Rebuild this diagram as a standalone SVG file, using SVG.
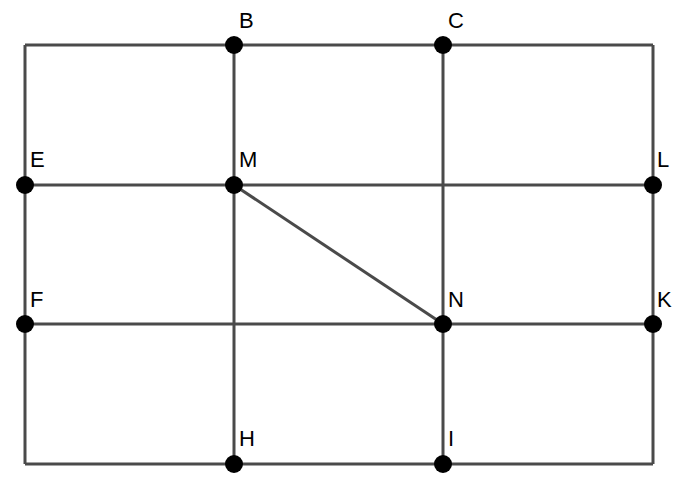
<svg xmlns="http://www.w3.org/2000/svg" width="685" height="478" viewBox="0 0 685 478">
<style>
.e{stroke:#4a4a4a;stroke-width:3;fill:none;stroke-linecap:butt}
.p{fill:#000}
.t{font-family:"Liberation Sans",Arial,sans-serif;font-size:22px;fill:#000}
</style>
<rect width="685" height="478" fill="#fff"/>
<g id="connectors">
<line class="e" x1="25" y1="45" x2="653" y2="45"/>
<line class="e" x1="25" y1="185" x2="653" y2="185"/>
<line class="e" x1="25" y1="324" x2="653" y2="324"/>
<line class="e" x1="25" y1="464" x2="653" y2="464"/>
<line class="e" x1="25" y1="45" x2="25" y2="464"/>
<line class="e" x1="234" y1="45" x2="234" y2="464"/>
<line class="e" x1="443" y1="45" x2="443" y2="464"/>
<line class="e" x1="653" y1="45" x2="653" y2="464"/>
<line class="e" x1="234" y1="185" x2="443" y2="324"/>
</g>
<g id="B"><circle class="p" cx="234" cy="45" r="9"/><text class="t" x="239" y="28">B</text></g>
<g id="C"><circle class="p" cx="443" cy="45" r="9"/><text class="t" x="448" y="28">C</text></g>
<g id="E"><circle class="p" cx="25" cy="185" r="9"/><text class="t" x="30" y="167">E</text></g>
<g id="M"><circle class="p" cx="234" cy="185" r="9"/><text class="t" x="239" y="167">M</text></g>
<g id="L"><circle class="p" cx="653" cy="185" r="9"/><text class="t" x="657" y="167">L</text></g>
<g id="F"><circle class="p" cx="25" cy="324" r="9"/><text class="t" x="30" y="307">F</text></g>
<g id="N"><circle class="p" cx="443" cy="324" r="9"/><text class="t" x="448" y="307">N</text></g>
<g id="K"><circle class="p" cx="653" cy="324" r="9"/><text class="t" x="657" y="307">K</text></g>
<g id="H"><circle class="p" cx="234" cy="464" r="9"/><text class="t" x="239" y="446">H</text></g>
<g id="I"><circle class="p" cx="443" cy="464" r="9"/><text class="t" x="448" y="446">I</text></g>
</svg>
